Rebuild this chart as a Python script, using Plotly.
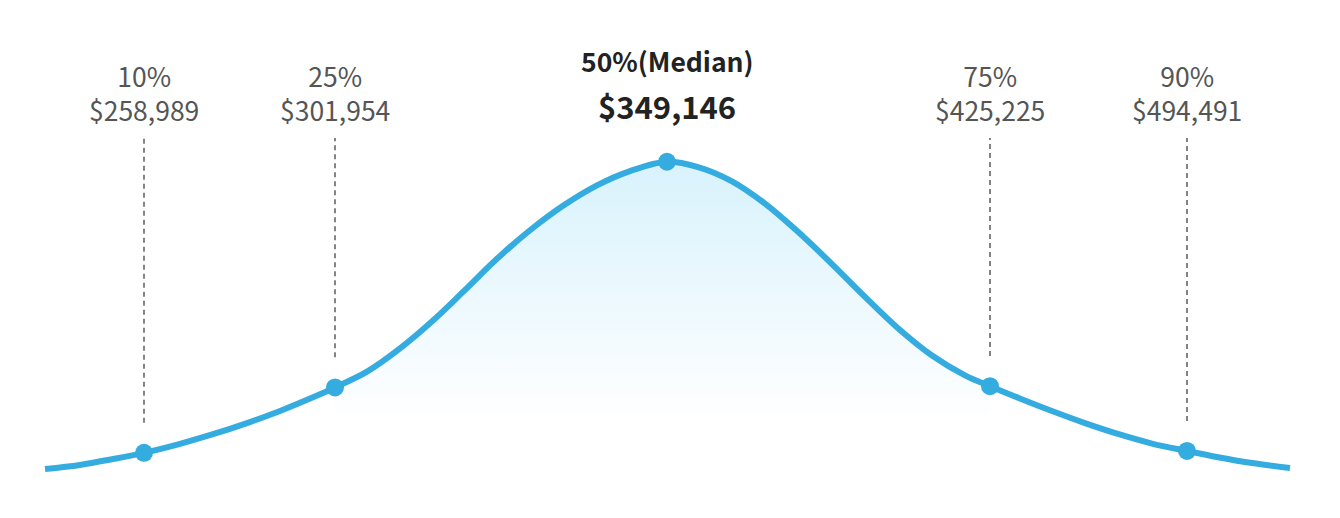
import plotly.graph_objects as go

# stylised distribution curve (position, relative height)
curve_x = [0.1, 3.6, 6.9, 10.0, 13.6, 16.9, 20.3, 23.6, 26.9, 29.1,
           32.3, 35.6, 38.9, 41.9, 45.3, 48.6, 51.9, 55.3, 58.6, 62.3,
           65.4, 68.8, 72.1, 75.4, 78.8, 82.1, 85.4, 88.8, 92.1, 94.6,
           97.4, 100.8, 104.1, 107.4, 110.8, 114.3, 117.4, 120.8, 124.6]
curve_y = [0.3, 1.6, 3.5, 5.5, 8.4, 11.5, 15.1, 19.0, 23.4, 26.6,
           31.7, 39.2, 48.2, 57.4, 68.1, 77.3, 85.2, 91.8, 96.4, 99.4,
           97.7, 93.1, 85.9, 76.8, 66.4, 55.8, 45.7, 36.9, 30.5, 27.0,
           23.3, 19.0, 15.1, 11.6, 8.5, 6.1, 4.1, 2.2, 0.6]

# percentile markers
pct_labels = ['10%', '25%', '50%(Median)', '75%', '90%']
pct_values = [258989, 301954, 349146, 425225, 494491]
pct_x = [10.0, 29.1, 62.3, 94.6, 114.3]
pct_y = [5.5, 26.6, 99.4, 27.0, 6.1]

BLUE = '#35ACE0'
FONT = 'Noto Sans CJK SC'

fig = go.Figure()

# gradient fill under the middle part (25% .. 75%)
mid = [i for i in range(len(curve_x)) if pct_x[1] <= curve_x[i] <= pct_x[3]]
fig.add_trace(go.Scatter(
    x = [curve_x[i] for i in mid],
    y = [curve_y[i] for i in mid],
    mode = 'lines',
    line = dict(width = 0, shape = 'spline'),
    fill = 'tozeroy',
    fillgradient = dict(type = 'vertical',
                        colorscale = [[0, '#FFFFFF'], [0.15, '#FFFFFF'], [1, '#D8F2FC']]),
    hoverinfo = 'skip'
))

fig.add_trace(go.Scatter(
    x = curve_x, y = curve_y,
    mode = 'lines',
    line = dict(color = BLUE, width = 6, shape = 'spline', smoothing = 1),
    hoverinfo = 'skip'
))

fig.add_trace(go.Scatter(
    x = pct_x, y = pct_y,
    mode = 'markers',
    marker = dict(color = BLUE, size = 18),
    text = ['{0}: ${1:,}'.format(l, v) for l, v in zip(pct_labels, pct_values)],
    hoverinfo = 'text'
))

shapes = []
for k in range(len(pct_x)):
    label = pct_labels[k]
    value = '${0:,}'.format(pct_values[k])
    if k == 2:
        fig.add_annotation(x = pct_x[k], y = 132.0, text = label, showarrow = False,
                           font = dict(family = FONT, size = 26.5, color = '#222222', weight = 700))
        fig.add_annotation(x = pct_x[k], y = 117.5, text = value, showarrow = False,
                           font = dict(family = FONT, size = 31, color = '#222222', weight = 700))
        continue
    fig.add_annotation(x = pct_x[k], y = 121.9, text = label + '<br>' + value, showarrow = False,
                       font = dict(family = FONT, size = 26.5, color = '#555555'))
    shapes.append(dict(
        type = 'line', xref = 'x', yref = 'y',
        x0 = pct_x[k], x1 = pct_x[k],
        y0 = pct_y[k] + 9.7, y1 = 107.1,
        line = dict(color = '#777777', width = 1.8, dash = '5px,4px'),
        layer = 'below'
    ))

# page body has an 8px margin, ranges are shifted to compensate
fig.update_layout(
    width = 1340, height = 518,
    margin = dict(t = 0, b = 0, l = 0, r = 0),
    paper_bgcolor = 'white', plot_bgcolor = 'white',
    showlegend = False,
    shapes = shapes,
    xaxis = dict(range = [-3.6, 130.4], visible = False, fixedrange = True),
    yaxis = dict(range = [-18.1, 149.0], visible = False, fixedrange = True)
)

fig.write_html('out.html')
